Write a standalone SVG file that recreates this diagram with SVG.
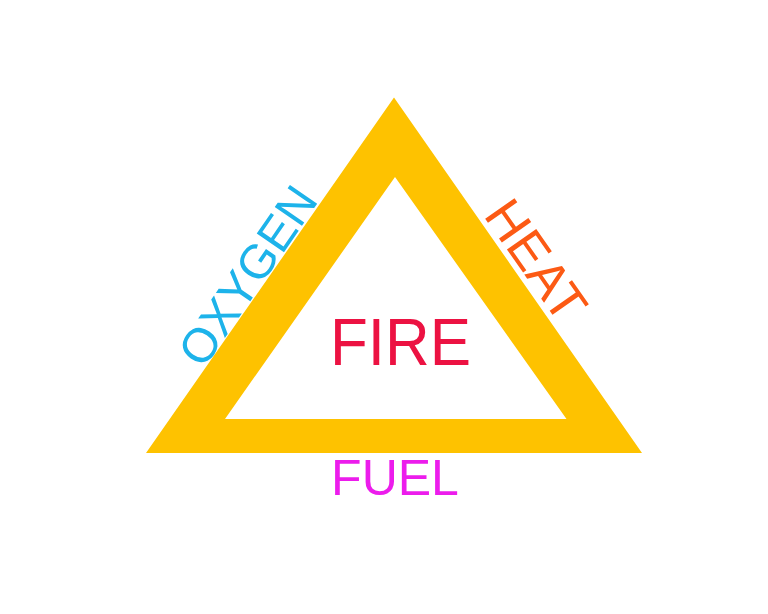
<svg xmlns="http://www.w3.org/2000/svg" width="768" height="614" viewBox="0 0 768 614">
<style>
.lbl{font-family:"Liberation Sans",Arial,sans-serif;text-anchor:middle}
</style>
<rect width="768" height="614" fill="#ffffff"/>
<g id="triangle">
<path d="M394,97.5 L642,453 L146,453 Z M395,177 L225,419 L566.5,419 Z" fill="#FEC200" fill-rule="evenodd"/>
</g>
<g id="fire">
<text class="lbl" x="400.5" y="365" font-size="67" fill="#EC1242" textLength="141" lengthAdjust="spacingAndGlyphs">FIRE</text>
</g>
<g id="fuel">
<text class="lbl" x="395" y="495" font-size="50" fill="#EC1CEC">FUEL</text>
</g>
<g id="oxygen">
<text class="lbl" transform="translate(261.3,285.1) rotate(-55.5)" x="0" y="0" font-size="48" fill="#1DB3EA">OXYGEN</text>
</g>
<g id="heat">
<text class="lbl" transform="translate(521.5,270.5) rotate(55)" x="0" y="0" font-size="52" fill="#FC5A14">HEAT</text>
</g>
<g id="connectors"></g>
</svg>
